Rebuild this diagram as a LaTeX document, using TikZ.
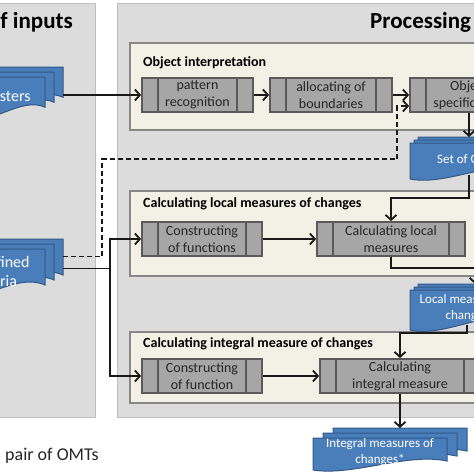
\documentclass[tikz,border=0pt]{standalone}
\usepackage{fontspec}
\setmainfont{Carlito}
\usepackage{tikz}
\usetikzlibrary{arrows.meta}

\definecolor{panelfill}{RGB}{220,220,220}
\definecolor{panelline}{RGB}{190,190,190}
\definecolor{stagefill}{RGB}{243,241,230}
\definecolor{stageline}{RGB}{135,135,135}
\definecolor{procfill}{RGB}{166,166,166}
\definecolor{procline}{RGB}{90,90,90}
\definecolor{proctext}{RGB}{38,38,38}
\definecolor{docfill}{RGB}{74,126,187}
\definecolor{docline}{RGB}{50,88,135}
\definecolor{flowline}{RGB}{25,25,25}

\tikzset{
  panel/.style={fill=panelfill, draw=panelline, line width=1pt},
  stage/.style={fill=stagefill, draw=stageline, line width=1.6pt},
  stagetitle/.style={anchor=base west, inner sep=0pt, font=\fontsize{14}{17}\selectfont\bfseries},
  bigtitle/.style={inner sep=0pt, font=\fontsize{23}{27}\selectfont\bfseries},
  proc/.style={draw=procline, fill=procfill, line width=1.8pt, minimum height=34pt, inner sep=0pt,
    align=center, text=proctext, font=\fontsize{14}{17}\selectfont,
    path picture={\draw[procline, line width=1.8pt]
      ([xshift=16pt]path picture bounding box.north west) -- ([xshift=16pt]path picture bounding box.south west)
      ([xshift=-16pt]path picture bounding box.north east) -- ([xshift=-16pt]path picture bounding box.south east);}},
  docpage/.style={fill=docfill, draw=docline, line width=1pt},
  doctext/.style={text=white, align=center, inner sep=0pt, font=\fontsize{13}{16}\selectfont},
  flow/.style={draw=flowline, line width=1.8pt, -{Straight Barb[length=5pt,width=11pt]}},
  backflow/.style={flow, dash pattern=on 5pt off 3pt},
}

% name, x, y, width, height, dx, dy, node options, text
\newcommand{\omtdoc}[9]{%
  \foreach \k in {2,1,0}{%
    \filldraw[docpage] ({#2+\k*#6},{#3+\k*#7}) -- ({#2+\k*#6+#4},{#3+\k*#7})
      -- ({#2+\k*#6+#4},{#3+\k*#7+0.72*#5})
      .. controls ({#2+\k*#6+0.7*#4},{#3+\k*#7+0.45*#5}) and ({#2+\k*#6+0.3*#4},{#3+\k*#7+1.2*#5})
      .. ({#2+\k*#6},{#3+\k*#7+#5}) -- cycle;
  }
  \node[doctext,#8] (#1) at ({#2+#4/2},{#3+0.45*#5}) {#9};
  \coordinate (#1r) at ({#2+#4+2*#6},{#3+2*#7+0.35*#5});
  \coordinate (#1n) at ({#2+#4/2+2*#6},{#3+2*#7});
  \coordinate (#1s) at ({#2+#4/2},{#3+0.88*#5});
}

\begin{document}
\begin{tikzpicture}[x=1pt,y=-1pt]

\useasboundingbox[fill=white] (0,0) rectangle (474,474);

\draw[panel] (-10,3) rectangle (95,417);
\draw[panel] (117,3) rectangle (484,417);
\node[bigtitle, anchor=base east] (intitle) at (73,28) {f inputs};
\node[bigtitle, anchor=base west] (prtitle) at (370,28) {Processing};

\draw[stage] (130,43) rectangle (490,130);
\node[stagetitle] (objtitle) at (143,66) {Object interpretation};
\draw[stage] (130,191) rectangle (490,276);
\node[stagetitle] (loctitle) at (143,207) {Calculating local measures of changes};
\draw[stage] (130,332) rectangle (490,403);
\node[stagetitle] (inttitle) at (143,347) {Calculating integral measure of changes};

\node[proc, minimum width=111pt] (pat) at (197.5,95) {pattern\\recognition};
\node[proc, minimum width=122pt] (alloc) at (331,95) {allocating of\\boundaries};
\node[proc, minimum width=118pt] (objspec) at (469,95) {Object\\specification};
\node[proc, minimum width=120pt] (cfa) at (202,239) {Constructing\\of functions};
\node[proc, minimum width=148pt] (calcl) at (391,239) {Calculating local\\measures};
\node[proc, minimum width=120pt] (cfb) at (202,376) {Constructing\\of function};
\node[proc, minimum width=160pt] (calci) at (400,376) {Calculating\\integral measure};

\omtdoc{cl}{-35}{77}{80}{42}{9}{-5}{font=\fontsize{16}{20}\selectfont}{Clusters}
\omtdoc{cr}{-57}{249}{102}{50}{9}{-5}{font=\fontsize{16}{20}\selectfont}{Predefined\\criteria}
\omtdoc{set}{410}{143}{118}{36}{4}{-3}{}{Set of OMTs}
\omtdoc{loc}{410}{290}{114}{40}{4}{-3}{}{Local measures of\\changes}
\omtdoc{int}{313}{438}{134}{32}{10}{-5}{}{Integral measures of\\changes*}

\node[anchor=base west, inner sep=0pt, text=proctext, font=\fontsize{18}{21}\selectfont] (note) at (5,460) {pair of OMTs};

\coordinate (lj) at (0,198);
\coordinate (mj) at (0,268);
\coordinate (ij) at (0,333);
\coordinate (vs) at (110,0);
\coordinate (dA) at (102,159);
\coordinate (dB) at (397,106);
\coordinate (crs) at ([yshift=-12pt]crr);

\draw[flow] (clr |- pat) -- (pat);
\draw[flow] (pat) -- (alloc);
\draw[flow] (alloc) -- (objspec);
\draw[flow] (objspec.south) -- (objspec.south |- setn);
\draw[flow] (sets) -- (sets |- lj) -| (calcl.north);
\draw[flow] (cfa) -- (calcl);
\draw[flow] (calcl.south) -- (calcl.south |- mj) -| (locn);
\draw[flow] (locs) -- (locs |- ij) -| (calci.north);
\draw[flow] (cfb) -- (calci);
\draw[flow] (calci.south) -- (calci.south |- intn);
\draw[flow] (crs) -- (crs -| vs) |- (cfa);
\draw[flow] (crs -| vs) |- (cfb);
\draw[backflow] (crr) -| (dA) -| (dB) -- (dB -| objspec.west);

\end{tikzpicture}
\end{document}
